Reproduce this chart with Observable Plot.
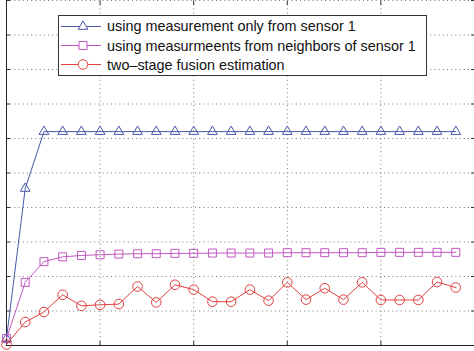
<!DOCTYPE html>
<html><head><meta charset="utf-8">
<script src="https://cdn.jsdelivr.net/npm/d3@7"></script>
<script src="https://cdn.jsdelivr.net/npm/@observablehq/plot@0.6"></script>
<style>
body{margin:0;background:#fff;}
#wrap{position:relative;width:474px;height:351px;overflow:hidden;}
#legend{position:absolute;left:58px;top:15px;width:369px;height:61px;box-sizing:border-box;border:1px solid #333;background:#fff;font-family:"Liberation Sans",Arial,sans-serif;font-size:14.4px;color:#111;}
.row{position:absolute;left:0;height:19px;display:flex;align-items:center;white-space:nowrap;}
.row svg{display:block;}
</style></head><body><div id="wrap"></div>
<script>
const steps = d3.range(0, 25);
const sensorOnly = [0.2, 4.55, 6.2, 6.2, 6.2, 6.2, 6.2, 6.2, 6.2, 6.2, 6.2, 6.2, 6.2, 6.2, 6.2, 6.2, 6.2, 6.2, 6.2, 6.2, 6.2, 6.2, 6.2, 6.2, 6.2];
const neighbors = [0.2, 1.83, 2.43, 2.57, 2.61, 2.63, 2.65, 2.66, 2.66, 2.67, 2.67, 2.68, 2.68, 2.68, 2.68, 2.69, 2.69, 2.69, 2.69, 2.69, 2.7, 2.7, 2.7, 2.7, 2.7];
const fusion = [0.03, 0.68, 0.97, 1.47, 1.15, 1.18, 1.2, 1.71, 1.25, 1.76, 1.62, 1.27, 1.27, 1.62, 1.3, 1.83, 1.33, 1.66, 1.33, 1.83, 1.32, 1.32, 1.32, 1.84, 1.68];
const seriesNames = ["using measurement only from sensor 1", "using measurmeents from neighbors of sensor 1", "two\u2013stage fusion estimation"];
const seriesColors = ["#4a58a8", "#c058c0", "#e0403f"];
const seriesSymbols = ["triangle", "square", "circle"];
const xTicks = [5, 10, 15, 20, 25];
const yTicks = [1, 2, 3, 4, 5, 6, 7, 8, 9, 10];

const seriesValues = [sensorOnly, neighbors, fusion];
const rows = [];
seriesValues.forEach((vals, s) => vals.forEach((v, i) => rows.push({step: steps[i], value: v, series: seriesNames[s]})));
const markerR = {triangle: 3.6, square: 4.5, circle: 4.8};

const grid = {stroke: "#777", strokeOpacity: 1, strokeDasharray: "1,3.2", strokeWidth: 1};
const marks = [
  Plot.gridX(xTicks, grid),
  Plot.gridY(yTicks, grid),
  Plot.axisX(xTicks, {anchor: "bottom", tickSize: -4, tickFormat: () => "", label: null, stroke: "#333"}),
  Plot.axisX(xTicks, {anchor: "top", tickSize: -4, tickFormat: () => "", label: null, stroke: "#333"}),
  Plot.axisY(yTicks, {anchor: "left", tickSize: -4, tickFormat: () => "", label: null, stroke: "#333"}),
  Plot.axisY(yTicks, {anchor: "right", tickSize: -4, tickFormat: () => "", label: null, stroke: "#333"}),
  Plot.ruleX([0], {stroke: "#222"}),
  Plot.ruleY([0], {stroke: "#222"})
];
seriesNames.forEach((name, s) => {
  const data = rows.filter(d => d.series === name);
  marks.push(Plot.line(data, {x: "step", y: "value", stroke: seriesColors[s], strokeWidth: 1}));
  marks.push(Plot.dot(data, {x: "step", y: "value", stroke: seriesColors[s], fill: "none", symbol: seriesSymbols[s], r: markerR[seriesSymbols[s]], strokeWidth: 1}));
});

const chart = Plot.plot({
  width: 474, height: 351,
  marginLeft: 6, marginRight: 0, marginTop: 0, marginBottom: 6,
  x: {domain: [0, 25]},
  y: {domain: [0, 10]},
  style: {background: "#fff", overflow: "visible"},
  marks
});
const wrap = document.getElementById("wrap");
wrap.appendChild(chart);

// legend
const legend = document.createElement("div");
legend.id = "legend";
const symMap = {triangle: d3.symbolTriangle, square: d3.symbolSquare, circle: d3.symbolCircle};
const rowTops = [0.5, 20, 39];
seriesNames.forEach((name, s) => {
  const row = document.createElement("div");
  row.className = "row";
  row.style.top = rowTops[s] + "px";
  const sym = seriesSymbols[s];
  const r = markerR[sym];
  const path = d3.symbol(symMap[sym], r * r * Math.PI)();
  row.innerHTML = `<svg width="48" height="19"><line x1="2" x2="42" y1="9.5" y2="9.5" stroke="${seriesColors[s]}" stroke-width="1"/><path transform="translate(24,9.5)" d="${path}" fill="#fff" stroke="${seriesColors[s]}"/></svg><span>${name}</span>`;
  legend.appendChild(row);
});
wrap.appendChild(legend);
</script>
</body></html>
